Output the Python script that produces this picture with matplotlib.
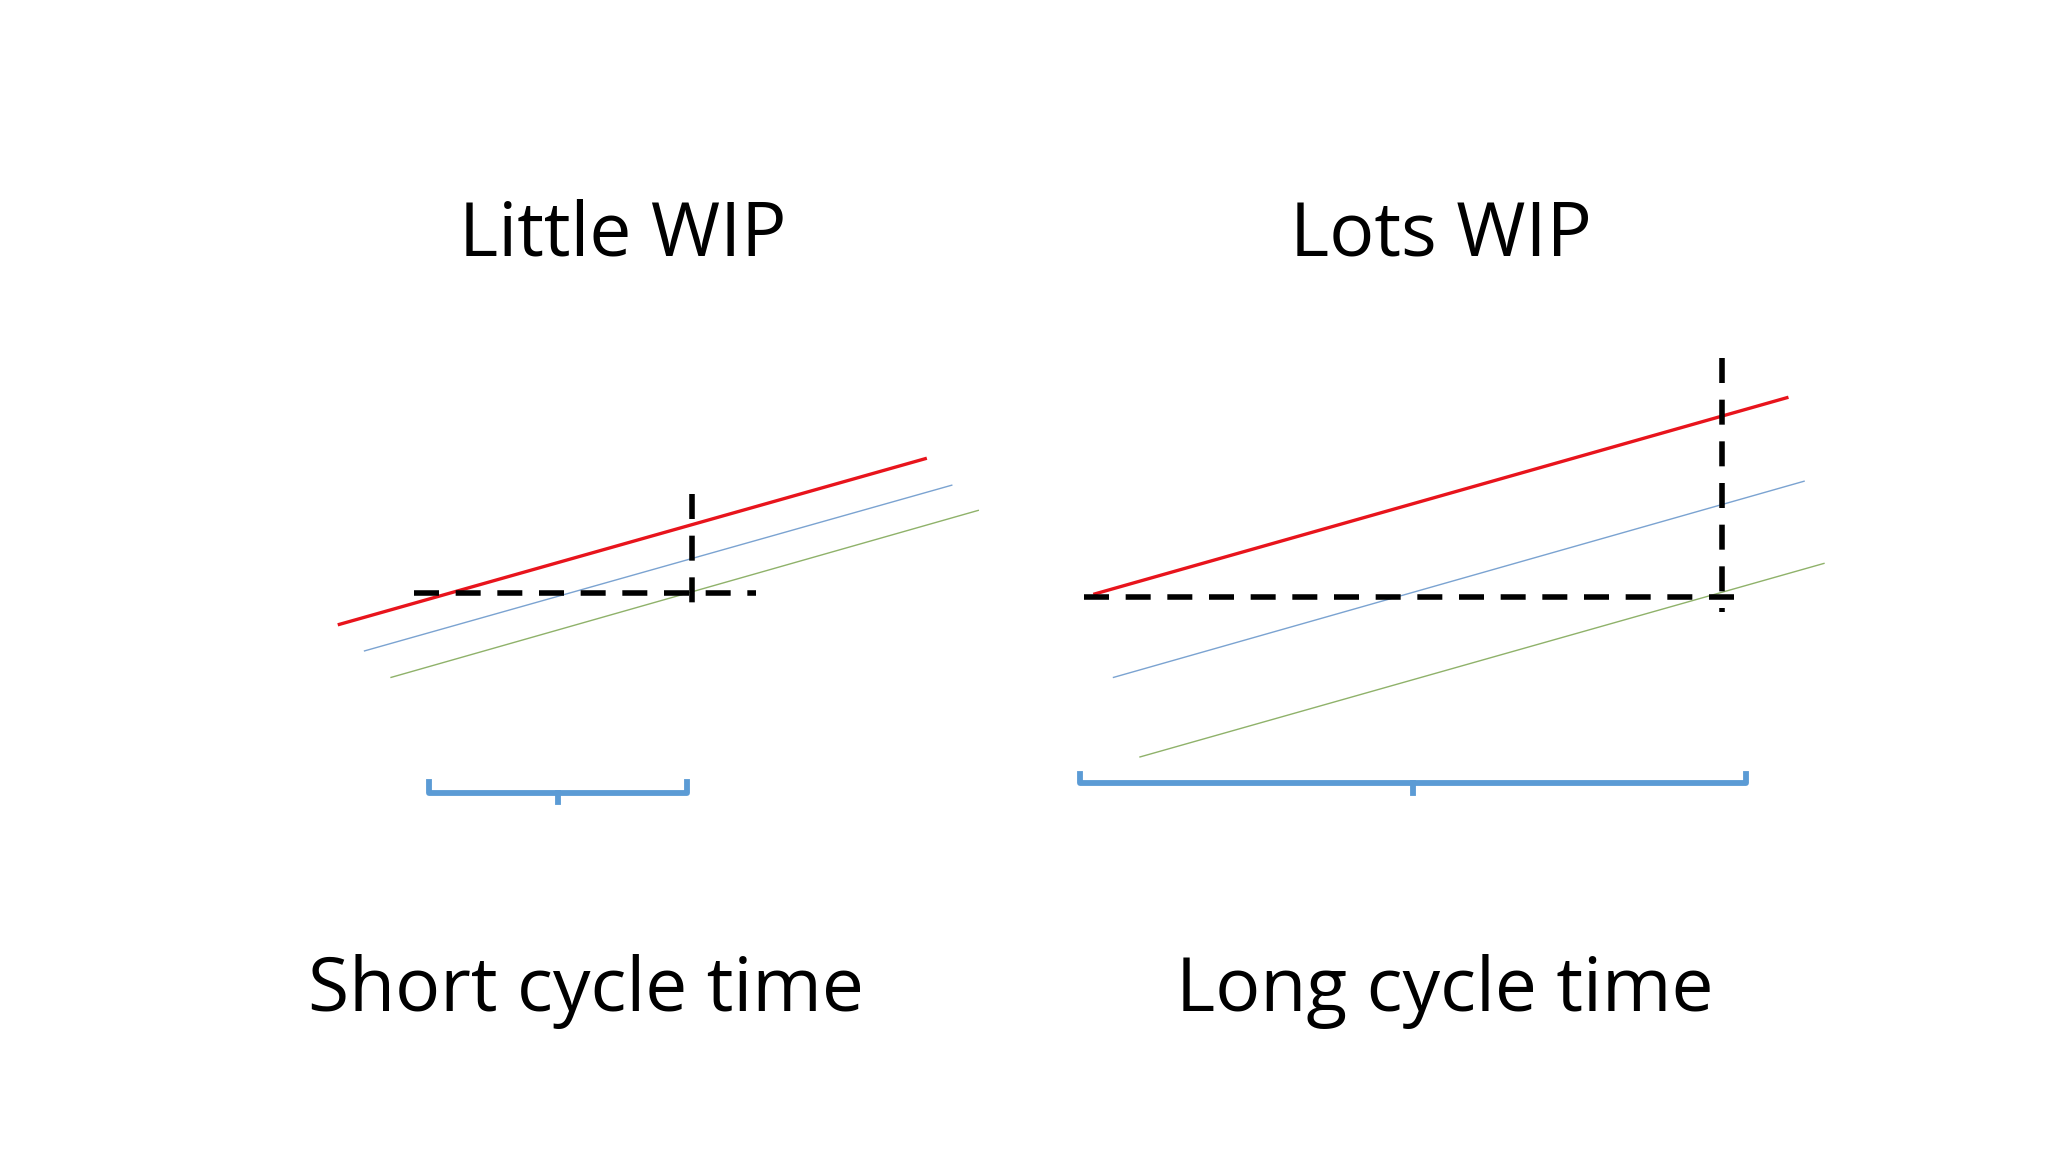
import matplotlib
matplotlib.use("Agg")
import matplotlib.pyplot as plt

# Reference-space units
W, H = 1545, 869
# Left panel lines: (x0, y0, x1, y1)
left_red = [256, 471, 698, 346]
left_blue = [275, 491, 718, 366]
left_green = [295, 511, 738, 385]
left_hdash = [312, 447, 570, 447]
left_vdash = [522, 373, 522, 462]
left_bracket = [324, 518, 598, 590, 605]  # x0, x1, y, y_end_top, y_mid_tip
# Right panel lines
right_red = [826, 448, 1348, 300]
right_blue = [840, 511, 1361, 363]
right_green = [860, 571, 1376, 425]
right_hdash = [818, 450, 1318, 450]
right_vdash = [1299, 270, 1299, 462]
right_bracket = [815, 1317, 591, 584, 598]

titles = ["Little WIP", "Lots WIP"]
title_pos = [(470, 178), (1087, 178)]
labels = ["Short cycle time", "Long cycle time"]
label_pos = [(442, 748), (1090, 748)]

fig = plt.figure(figsize=(20.48, 11.52), dpi=100)
ax = fig.add_axes([0, 0, 1, 1])
ax.set_xlim(0, W)
ax.set_ylim(H, 0)
ax.axis("off")

def seg(s, **kw):
    ax.plot([s[0], s[2]], [s[1], s[3]], **kw)

def bracket(b):
    x0, x1, y, yt, ym = b
    c = "#5b9bd5"
    ax.plot([x0, x0, x1, x1], [yt, y, y, yt], color=c, lw=4.2, solid_joinstyle="round")
    xm = (x0 + x1) / 2
    ax.plot([xm, xm], [y, ym], color=c, lw=4.2)

for r, b, g, hd, vd, br in [(left_red, left_blue, left_green, left_hdash, left_vdash, left_bracket),
                            (right_red, right_blue, right_green, right_hdash, right_vdash, right_bracket)]:
    seg(r, color="#e8141c", lw=2.4)
    seg(b, color="#7ba3d1", lw=1.0)
    seg(g, color="#8fb26a", lw=1.0)
    seg(hd, color="black", lw=4.0, dashes=(4.5, 3))
    seg(vd, color="black", lw=4.0, dashes=(4.5, 3))
    bracket(br)

for t, p in zip(titles, title_pos):
    ax.text(p[0], p[1], t, ha="center", va="center", fontsize=54, family="Open Sans")
for t, p in zip(labels, label_pos):
    ax.text(p[0], p[1], t, ha="center", va="center", fontsize=54, family="Open Sans")

fig.savefig("out.png", dpi=100, facecolor="white")
